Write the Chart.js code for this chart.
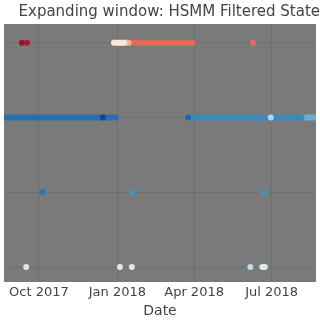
<!DOCTYPE html>
<html lang="en">
<head>
    <meta charset="UTF-8">
    <title>Expanding window: HSMM Filtered State</title>
    <style>
        body {
            margin: 0;
            padding: 0;
            background-color: #ffffff;
        }
        .container {
            width: 320px;
            height: 320px;
        }
    </style>
    <script src="https://cdn.jsdelivr.net/npm/chart.js"></script>
</head>
<body>
    <div class="container">
        <canvas id="stateChart" width="320" height="320"></canvas>
    </div>

    <script>
        // single markers: date, state, shade (-1 red ... +1 blue)
        var pointDates = ['2017-09-11', '2017-09-17', '2018-06-09',
                          '2017-12-15', '2018-03-25', '2018-06-30',
                          '2017-10-05', '2018-01-19', '2018-06-23',
                          '2017-09-16', '2018-01-04', '2018-01-18', '2018-06-06', '2018-06-20', '2018-06-23'];
        var pointStates = [3, 3, 3,
                           2, 2, 2,
                           1, 1, 1,
                           0, 0, 0, 0, 0, 0];
        var pointShades = [-0.86, -0.82, -0.55,
                           0.9, 0.8, 0.3,
                           0.74, 0.6, 0.6,
                           0.18, 0.15, 0.15, 0.26, 0.18, 0.16];

        // runs of consecutive days in the same state
        var runStart = ['2017-12-28', '2018-01-09', '2018-01-14', '2017-08-15', '2018-03-25', '2018-08-05'];
        var runEnd   = ['2018-01-09', '2018-01-14', '2018-03-30', '2017-12-30', '2018-08-05', '2018-08-30'];
        var runState = [3, 3, 3, 2, 2, 2];
        var runShade = [-0.12, -0.35, -0.56, 0.76, 0.65, 0.5];

        var tickDates = ['2017-10-01', '2018-01-01', '2018-04-01', '2018-07-01'];
        var tickLabels = ['Oct 2017', 'Jan 2018', 'Apr 2018', 'Jul 2018'];

        function day(s) {
            return Date.parse(s + 'T00:00:00Z') / 86400000;
        }

        // RdBu colour scale
        var stops = [
            [-1, [103, 0, 31]], [-0.8, [178, 24, 43]], [-0.6, [214, 96, 77]], [-0.4, [244, 165, 130]],
            [-0.2, [253, 219, 199]], [0, [247, 247, 247]], [0.2, [209, 229, 240]], [0.4, [146, 197, 222]],
            [0.6, [67, 147, 195]], [0.8, [33, 102, 172]], [1, [5, 48, 97]]
        ];
        function shade(v) {
            for (var i = 1; i < stops.length; i++) {
                if (v <= stops[i][0]) {
                    var a = stops[i - 1], b = stops[i];
                    var t = (v - a[0]) / (b[0] - a[0]);
                    var c = a[1].map(function (x, k) { return Math.round(x + (b[1][k] - x) * t); });
                    return 'rgb(' + c.join(',') + ')';
                }
            }
            return 'rgb(5,48,97)';
        }

        var datasets = [];
        for (var i = 0; i < runStart.length; i++) {
            datasets.push({
                type: 'line',
                data: [{ x: day(runStart[i]), y: runState[i] }, { x: day(runEnd[i]), y: runState[i] }],
                borderColor: shade(runShade[i]),
                borderWidth: 6,
                borderCapStyle: 'round',
                pointRadius: 0,
                order: 2
            });
        }
        datasets.push({
            type: 'scatter',
            data: pointDates.map(function (d, i) { return { x: day(d), y: pointStates[i] }; }),
            backgroundColor: pointShades.map(shade),
            borderWidth: 0,
            pointRadius: 3,
            order: 1
        });

        var plotBackground = {
            id: 'plotBackground',
            beforeDraw: function (chart) {
                var a = chart.chartArea, ctx = chart.ctx;
                ctx.save();
                ctx.fillStyle = '#7a7a7a';
                ctx.fillRect(a.left, a.top, a.right - a.left, a.bottom - a.top);
                ctx.restore();
            }
        };

        var ctx = document.getElementById('stateChart').getContext('2d');
        var stateChart = new Chart(ctx, {
            data: { datasets: datasets },
            plugins: [plotBackground],
            options: {
                responsive: false,
                animation: false,
                layout: { padding: 0 },
                plugins: {
                    legend: { display: false },
                    tooltip: { enabled: false },
                    title: {
                        display: true,
                        align: 'end',
                        text: 'Expanding window: HSMM Filtered State',
                        color: '#444444',
                        font: { family: 'DejaVu Sans', size: 15, weight: 'normal' },
                        padding: { top: 3, bottom: 3 }
                    }
                },
                scales: {
                    x: {
                        type: 'linear',
                        min: day('2017-08-21'),
                        max: day('2018-08-22'),
                        afterBuildTicks: function (scale) {
                            scale.ticks = tickDates.map(function (d) { return { value: day(d) }; });
                        },
                        afterFit: function (scale) { scale.height = 38; },
                        ticks: {
                            autoSkip: false,
                            maxRotation: 0,
                            padding: 3,
                            color: '#444444',
                            font: { family: 'DejaVu Sans', size: 13 },
                            callback: function (v) {
                                var i = tickDates.map(day).indexOf(v);
                                return i >= 0 ? tickLabels[i] : '';
                            }
                        },
                        grid: { color: '#6f6f6f', drawTicks: false },
                        border: { display: false },
                        title: {
                            display: true,
                            text: 'Date',
                            color: '#444444',
                            font: { family: 'DejaVu Sans', size: 14 },
                            padding: { top: 0, bottom: 0 }
                        }
                    },
                    y: {
                        type: 'linear',
                        min: -0.2,
                        max: 3.25,
                        afterBuildTicks: function (scale) {
                            scale.ticks = [0, 1, 2, 3].map(function (v) { return { value: v }; });
                        },
                        afterFit: function (scale) { scale.width = 0; },
                        ticks: { display: false },
                        grid: { color: '#6f6f6f', drawTicks: false },
                        border: { display: false }
                    }
                }
            }
        });
    </script>
</body>
</html>
